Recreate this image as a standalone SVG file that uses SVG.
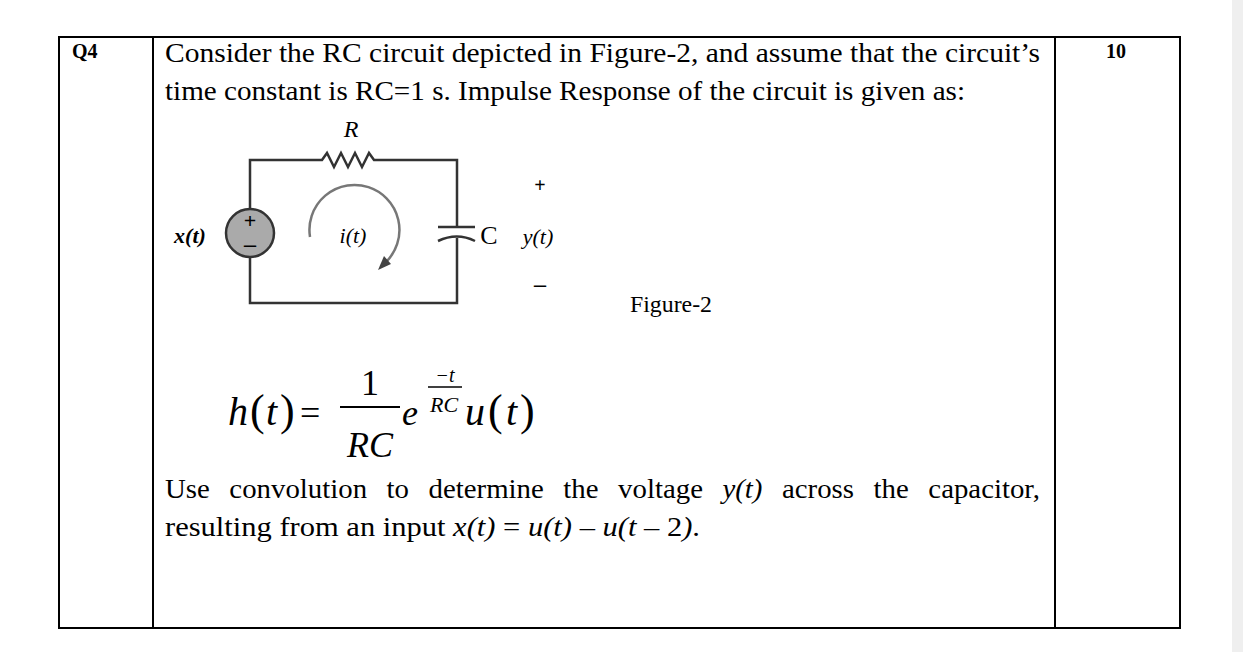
<svg xmlns="http://www.w3.org/2000/svg" width="1243" height="652" viewBox="0 0 1243 652">
<style>
.t{font-family:"Liberation Serif",serif;fill:#000}
.w{stroke:#333;stroke-width:2.5;fill:none}
</style>
<rect width="1243" height="652" fill="#fff"/>
<rect x="1232" y="0" width="11" height="652" fill="#efefef"/>
<g id="table" fill="none" stroke="#000" stroke-width="2">
<rect x="59" y="37" width="1121" height="591"/>
<line x1="153" y1="37" x2="153" y2="628"/>
<line x1="1055" y1="37" x2="1055" y2="628"/>
</g>
<g id="header">
<text class="t" x="72" y="58" font-size="20" font-weight="bold">Q4</text>
<text class="t" x="1106" y="58" font-size="20" font-weight="bold">10</text>
<text class="t" x="165" y="62" font-size="28" textLength="875" lengthAdjust="spacingAndGlyphs">Consider the RC circuit depicted in Figure-2, and assume that the circuit’s</text>
<text class="t" x="165" y="100" font-size="28" textLength="800" lengthAdjust="spacingAndGlyphs">time constant is RC=1 s. Impulse Response of the circuit is given as:</text>
</g>
<g id="circuit">
<path class="w" d="M250 209 V160 H322 l5 -7 l7 14 l7 -14 l7 14 l7 -14 l7 14 l7 -14 l5 7 H457 V227 M457 238 V303 H250 V257"/>
<line class="w" x1="438" y1="227" x2="475" y2="227"/>
<path class="w" d="M438 241 Q457 232 475 241"/>
<circle cx="250" cy="233" r="24" fill="#aaa" stroke="#333" stroke-width="2.5"/>
<text class="t" x="250" y="228" font-size="22" font-weight="bold" text-anchor="middle">+</text>
<text class="t" x="250" y="252" font-size="24" font-weight="bold" text-anchor="middle">–</text>
<text class="t" x="351" y="137" font-size="24" font-style="italic" text-anchor="middle">R</text>
<text class="t" x="190" y="243" font-size="22" font-style="italic" font-weight="bold" text-anchor="middle">x(t)</text>
<text class="t" x="353" y="243" font-size="22" font-style="italic" text-anchor="middle">i(t)</text>
<path d="M310 237 A45 45 0 1 1 386 262" fill="none" stroke="#777" stroke-width="2.5"/>
<path d="M378 270 L384 256 L391 264 Z" fill="#444"/>
<text class="t" x="489" y="244" font-size="26" text-anchor="middle">C</text>
<text class="t" x="538" y="244" font-size="22" font-style="italic" text-anchor="middle">y(t)</text>
<text class="t" x="540" y="192" font-size="20" font-weight="bold" text-anchor="middle">+</text>
<text class="t" x="540" y="292" font-size="24" font-weight="bold" text-anchor="middle">–</text>
<text class="t" x="630" y="312" font-size="24" textLength="82" lengthAdjust="spacingAndGlyphs">Figure-2</text>
</g>
<g id="equation" class="t">
<text class="t" x="228" y="425" font-size="40" font-style="italic">h</text>
<text class="t" x="250" y="425" font-size="44">(</text>
<text class="t" x="266" y="425" font-size="40" font-style="italic">t</text>
<text class="t" x="280" y="425" font-size="44">)</text>
<text class="t" x="300" y="425" font-size="36">=</text>
<text class="t" x="370" y="395" font-size="36" text-anchor="middle">1</text>
<line x1="340" y1="407" x2="400" y2="407" stroke="#000" stroke-width="2"/>
<text class="t" x="370" y="457" font-size="36" font-style="italic" text-anchor="middle">RC</text>
<text class="t" x="402" y="425" font-size="36" font-style="italic">e</text>
<text class="t" x="445" y="382" font-size="20" font-style="italic" text-anchor="middle">−t</text>
<line x1="428" y1="387" x2="462" y2="387" stroke="#000" stroke-width="1.5"/>
<text class="t" x="444" y="412" font-size="22" font-style="italic" text-anchor="middle">RC</text>
<text class="t" x="465" y="425" font-size="40" font-style="italic">u</text>
<text class="t" x="488" y="425" font-size="44">(</text>
<text class="t" x="506" y="425" font-size="40" font-style="italic">t</text>
<text class="t" x="520" y="425" font-size="44">)</text>
</g>
<g id="question">
<text class="t" x="165" y="498" font-size="28" textLength="875" lengthAdjust="spacingAndGlyphs" word-spacing="12">Use convolution to determine the voltage <tspan font-style="italic">y(t)</tspan> across the capacitor,</text>
<text class="t" x="165" y="536" font-size="28" textLength="535" lengthAdjust="spacingAndGlyphs">resulting from an input   <tspan font-style="italic">x(t)</tspan> = <tspan font-style="italic">u(t)</tspan> – <tspan font-style="italic">u(t</tspan> – 2<tspan font-style="italic">)</tspan>.</text>
</g>
</svg>
